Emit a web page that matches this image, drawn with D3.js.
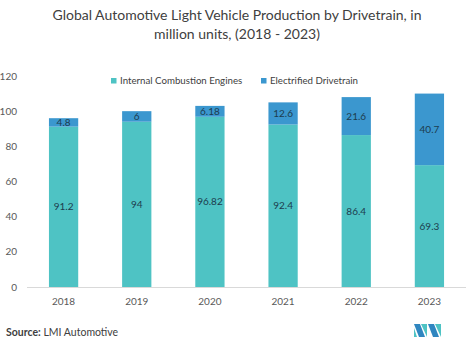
<!DOCTYPE html>
<html><head><meta charset="utf-8">
<script src="https://cdn.jsdelivr.net/npm/d3@7"></script>
<style>body{margin:0;background:#fff}svg{display:block}text{font-family:Lato,"Open Sans",sans-serif}</style>
</head><body><svg id="c" width="474" height="356"></svg>
<script>
const years = ["2018","2019","2020","2021","2022","2023"];
const ice = [91.2, 94, 96.82, 92.4, 86.4, 69.3];
const elec = [4.8, 6, 6.18, 12.6, 21.6, 40.7];
const yTicks = [0,20,40,60,80,100,120];
const seriesNames = ["Internal Combustion Engines","Electrified Drivetrain"];
const colors = ["#4ec3c4","#3b97cf"];

const svg = d3.select("#c");
const x = d3.scaleBand().domain(years).range([27,466]).paddingInner(0.6).paddingOuter(0.3);
const y = d3.scaleLinear().domain([0,120]).range([287,76]);

svg.append("text").attr("x",237).attr("y",20).attr("text-anchor","middle").attr("font-size",14).attr("fill","#404040")
  .text("Global Automotive Light Vehicle Production by Drivetrain, in");
svg.append("text").attr("x",237).attr("y",39).attr("text-anchor","middle").attr("font-size",14).attr("fill","#404040")
  .text("million units, (2018 - 2023)");

// y labels
svg.selectAll(".yt").data(yTicks).enter().append("text").attr("x",17).attr("y",d=>y(d)+3.5)
  .attr("text-anchor","end").attr("font-size",10).attr("fill","#595959").text(d=>d);

// axis line
svg.append("line").attr("x1",27).attr("x2",466).attr("y1",287.5).attr("y2",287.5).attr("stroke","#d9d9d9");

const data = years.map((yr,i)=>({yr, a:ice[i], b:elec[i]}));
const g = svg.append("g");
g.selectAll(".a").data(data).enter().append("rect").attr("x",d=>x(d.yr)).attr("width",x.bandwidth())
  .attr("y",d=>y(d.a)).attr("height",d=>y(0)-y(d.a)).attr("fill",colors[0]);
g.selectAll(".b").data(data).enter().append("rect").attr("x",d=>x(d.yr)).attr("width",x.bandwidth())
  .attr("y",d=>y(d.a+d.b)).attr("height",d=>y(d.a)-y(d.a+d.b)).attr("fill",colors[1]);
g.selectAll(".la").data(data).enter().append("text").attr("x",d=>x(d.yr)+x.bandwidth()/2).attr("y",d=>y(d.a/2)+3.5)
  .attr("text-anchor","middle").attr("font-size",10).attr("fill","#1d3c4e").text(d=>d.a);
g.selectAll(".lb").data(data).enter().append("text").attr("x",d=>x(d.yr)+x.bandwidth()/2).attr("y",d=>y(d.a+d.b/2)+3.5)
  .attr("text-anchor","middle").attr("font-size",10).attr("fill","#1d3c4e").text(d=>d.b);

// x labels
svg.selectAll(".xt").data(years).enter().append("text").attr("x",d=>x(d)+x.bandwidth()/2).attr("y",305)
  .attr("text-anchor","middle").attr("font-size",10).attr("fill","#595959").text(d=>d);

// legend
const lx = [111, 261];
seriesNames.forEach((n,i)=>{
  svg.append("rect").attr("x",lx[i]).attr("y",78).attr("width",5.5).attr("height",5.5).attr("fill",colors[i]);
  svg.append("text").attr("x",lx[i]+9).attr("y",84).attr("font-size",9.7).attr("fill","#404040").text(n);
});

// source
const s = svg.append("text").attr("x",6).attr("y",336).attr("font-size",10.5).attr("fill","#404040");
s.append("tspan").attr("font-weight","bold").text("Source:");
s.append("tspan").text(" LMI Automotive");

// logo
const lg = svg.append("g").attr("transform","translate(414,324)");
lg.append("path").attr("d","M0,13 L0,4 L3,13 Z").attr("fill","#4ec3c4");
lg.append("path").attr("d","M0,0 L6,0 L11,13 L5,13 Z").attr("fill","#2f86c0");
lg.append("path").attr("d","M7,0 L13,0 L13,13 Z").attr("fill","#4ec3c4");
lg.append("path").attr("d","M14,0 L20,0 L25,13 L19,13 Z").attr("fill","#2f86c0");
lg.append("path").attr("d","M21,0 L27,0 L27,13 Z").attr("fill","#4ec3c4");
</script></body></html>
